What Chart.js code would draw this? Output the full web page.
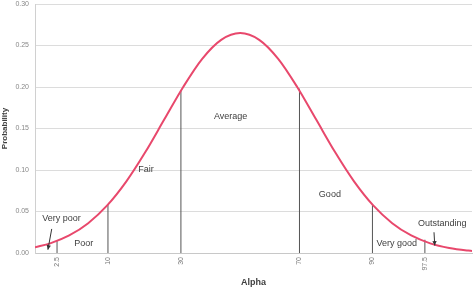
<!DOCTYPE html>
<html><head><meta charset="utf-8">
<script src="https://cdn.jsdelivr.net/npm/chart.js@4/dist/chart.umd.min.js"></script>
<style>html,body{margin:0;padding:0;background:#fff}#wrap{width:474px;height:289px}</style>
</head><body><div id="wrap"><canvas id="c"></canvas></div>
<script>
// Curve (x in standardised alpha units, y = probability)
const curveX = [-2.7,-2.5,-2.25,-2.0,-1.75,-1.5,-1.25,-1.0,-0.75,-0.5,-0.25,0,0.25,0.5,0.75,1.0,1.25,1.5,1.75,2.0,2.25,2.5,2.75,3.0,3.05];
const curveY = [0.0069,0.0116,0.0211,0.0359,0.0573,0.0860,0.1213,0.1607,0.2000,0.2339,0.2568,0.2650,0.2568,0.2339,0.2000,0.1607,0.1213,0.0860,0.0573,0.0359,0.0211,0.0116,0.0060,0.0029,0.0025];
// Cut points
const cutX = [-2.41,-1.74,-0.78,0.78,1.74,2.43];
const cutLabels = ["2.5","10","30","70","90","97.5"];
const cutTop = [0.0150,0.0590,0.1960,0.1980,0.0590,0.0160];
// Region labels
const regionNames = ["Very poor","Poor","Fair","Average","Good","Very good","Outstanding"];
const regionX = [-2.35,-2.06,-1.24,-0.125,1.18,2.06,2.66];
const regionY = [0.042,0.012,0.100,0.165,0.071,0.011,0.035];
// Arrows [fromX, fromY, toX, toY]
const arrowFromX = [-2.48,2.55];
const arrowFromY = [0.029,0.025];
const arrowToX = [-2.53,2.56];
const arrowToY = [0.004,0.009];

const datasets = [{
  data: curveX.map((x,i)=>({x, y: curveY[i]})),
  borderColor: '#e8486c', borderWidth: 2, pointRadius: 0, tension: 0.4, cubicInterpolationMode: 'monotone', order: 0
}];
cutX.forEach((x,i)=>{
  datasets.push({data:[{x,y:0},{x,y:cutTop[i]}], borderColor:'#555', borderWidth:1, pointRadius:0, order:1});
});

const labelPlugin = {
  id: 'labels',
  afterDatasetsDraw(chart){
    const ctx = chart.ctx, xs = chart.scales.x, ys = chart.scales.y;
    ctx.save();
    ctx.fillStyle = '#404040';
    ctx.font = '9px "Liberation Sans", Arial, sans-serif';
    ctx.textAlign = 'center'; ctx.textBaseline = 'middle';
    regionNames.forEach((n,i)=>ctx.fillText(n, xs.getPixelForValue(regionX[i]), ys.getPixelForValue(regionY[i])));
    ctx.strokeStyle = '#333'; ctx.fillStyle = '#333'; ctx.lineWidth = 1;
    arrowFromX.forEach((fx,i)=>{
      const x1 = xs.getPixelForValue(fx), y1 = ys.getPixelForValue(arrowFromY[i]);
      const x2 = xs.getPixelForValue(arrowToX[i]), y2 = ys.getPixelForValue(arrowToY[i]);
      ctx.beginPath(); ctx.moveTo(x1,y1); ctx.lineTo(x2,y2); ctx.stroke();
      const a = Math.atan2(y2-y1, x2-x1), L = 5;
      ctx.beginPath(); ctx.moveTo(x2,y2);
      ctx.lineTo(x2 - L*Math.cos(a-0.45), y2 - L*Math.sin(a-0.45));
      ctx.lineTo(x2 - L*Math.cos(a+0.45), y2 - L*Math.sin(a+0.45));
      ctx.closePath(); ctx.fill();
    });
    ctx.restore();
  }
};

new Chart(document.getElementById('c'), {
  type: 'line',
  data: { datasets },
  plugins: [labelPlugin],
  options: {
    responsive: true, maintainAspectRatio: false, animation: false,
    layout: { padding: { top: 4, right: 2, left: 0, bottom: 0 } },
    plugins: { legend: { display: false }, tooltip: { enabled: false } },
    scales: {
      x: {
        type: 'linear', min: -2.7, max: 3.05,
        afterBuildTicks(s){ s.ticks = cutX.map(v=>({value:v})); },
        afterFit(s){ s.height = 36; s.paddingRight = 0; s.paddingLeft = 0; },
        grid: { display: false, drawTicks: false },
        border: { color: '#c8c8c8', dash: [2,2] },
        ticks: { autoSkip: false, minRotation: 90, maxRotation: 90, color: '#777', padding: 4,
          font: { size: 7, family: 'Liberation Sans, Arial' },
          callback(v, i){ return cutLabels[i]; } },
        title: { display: true, text: 'Alpha', color: '#404040', font: { size: 9, weight: 'bold', family: 'Liberation Sans, Arial' }, padding: { top: 0, bottom: 1 } }
      },
      y: {
        min: 0, max: 0.30,
        afterFit(s){ s.width = 35; s.paddingTop = 0; s.paddingBottom = 0; },
        grid: { color: '#dcdcdc', drawTicks: false },
        border: { color: '#d0d0d0' },
        ticks: { stepSize: 0.05, color: '#888', padding: 6, font: { size: 7, family: 'Liberation Sans, Arial' },
          callback(v){ return v.toFixed(2); } },
        title: { display: true, text: 'Probability', color: '#404040', font: { size: 8, weight: 'bold', family: 'Liberation Sans, Arial' }, padding: { top: 0, bottom: 0 } }
      }
    }
  }
});
</script></body></html>
